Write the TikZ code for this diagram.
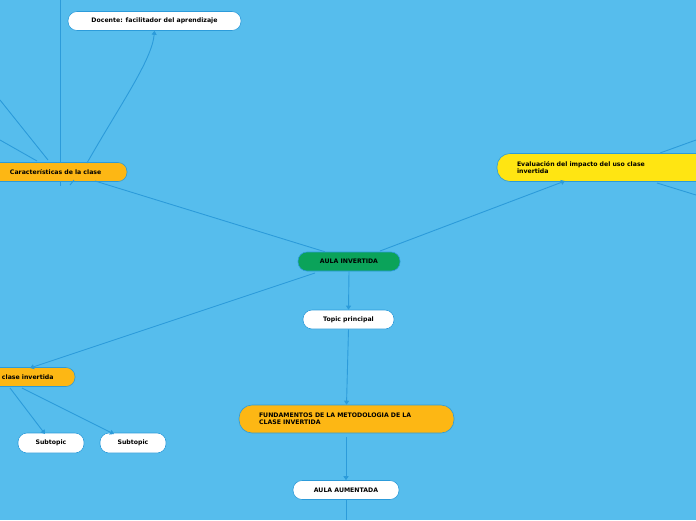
\documentclass[tikz,border=0pt]{standalone}
\usepackage{fontspec}
\setmainfont{DejaVu Sans}[BoldFont={DejaVu Sans Bold}]
\usetikzlibrary{arrows.meta}
\definecolor{bg}{HTML}{56BDED}
\definecolor{ln}{HTML}{2C9BDA}
\definecolor{org}{HTML}{FDB714}
\definecolor{yel}{HTML}{FFE512}
\definecolor{grn}{HTML}{0BA35A}
\begin{document}
\begin{tikzpicture}[x=1pt,y=-1pt,
 box/.style={draw=ln,rounded corners=9pt,line width=0.6pt,font=\bfseries\fontsize{6.2}{7.2}\selectfont,text=black,inner sep=0pt},
 con/.style={draw=ln,line width=0.9pt},
 arr/.style={con,-{Triangle[length=4pt,width=5pt]}}]
\fill[bg] (0,0) rectangle (696,520);
\useasboundingbox (0,0) rectangle (696,520);
\coordinate (t1) at (60,0); \coordinate (t1b) at (60,186);
\draw[con] (t1) -- (t1b);
\node[box,fill=white,minimum width=173pt,minimum height=19pt] (doc) at (154.5,21) {Docente: facilitador del aprendizaje};
\node[box,fill=org,minimum width=167pt,minimum height=19pt,text width=157pt,align=left] (car) at (43.5,172) {\hspace*{45pt}Características de la clase};
\node[box,fill=grn,minimum width=102pt,minimum height=19pt] (aula) at (349,261.5) {AULA INVERTIDA};
\node[box,fill=white,minimum width=91pt,minimum height=19pt] (top) at (348.5,319.5) {Topic principal};
\node[box,fill=yel,minimum width=240pt,minimum height=28pt,rounded corners=13pt,text width=220pt,align=left] (eva) at (617,167.5) {\hspace*{10pt}Evaluación del impacto del uso clase\\\hspace*{10pt}invertida};
\node[box,fill=org,minimum width=135pt,minimum height=19pt,text width=125pt,align=left] (cla) at (7.5,377) {\hspace*{57pt}clase invertida};
\node[box,fill=white,minimum width=66pt,minimum height=20pt] (s1) at (51,443) {Subtopic};
\node[box,fill=white,minimum width=66pt,minimum height=20pt] (s2) at (133,443) {Subtopic};
\node[box,fill=org,minimum width=215pt,minimum height=28pt,rounded corners=13pt,text width=190pt,align=left] (fun) at (346.5,419) {\hspace*{7.5pt}FUNDAMENTOS DE LA METODOLOGIA DE LA\\\hspace*{7.5pt}CLASE INVERTIDA};
\node[box,fill=white,minimum width=106pt,minimum height=19pt] (aum) at (346,490) {AULA AUMENTADA};
\coordinate (l1) at (0,100); \coordinate (l1b) at (48,160);
\coordinate (l2) at (0,140); \coordinate (l2b) at (37,161);
\coordinate (r1) at (696,140); \coordinate (r2) at (696,195);
\coordinate (bot) at (346,520);
\draw[con] (l1) -- (l1b);
\draw[con] (l2) -- (l2b);
\draw[con] (aula.north west)++(27,0) -- (95,181);
\draw[arr] (87,163) .. controls (120,105) and (152,60) .. (doc.south);
\draw[con] (70,185) -- (74,180);
\draw[arr] (380,251) -- (565,181);
\draw[con] (660,153) -- (r1);
\draw[con] (657,183) -- (r2);
\draw[arr] (aula.south) -- (top.north);
\draw[arr] (315,273) -- (30,368);
\draw[arr] (top.south) -- (fun.north);
\draw[arr] (10,388) -- (45,434);
\draw[arr] (22,388) -- (114,434);
\draw[arr] (346,437) -- (aum.north);
\draw[con] (aum.south) -- (bot);
\end{tikzpicture}
\end{document}
